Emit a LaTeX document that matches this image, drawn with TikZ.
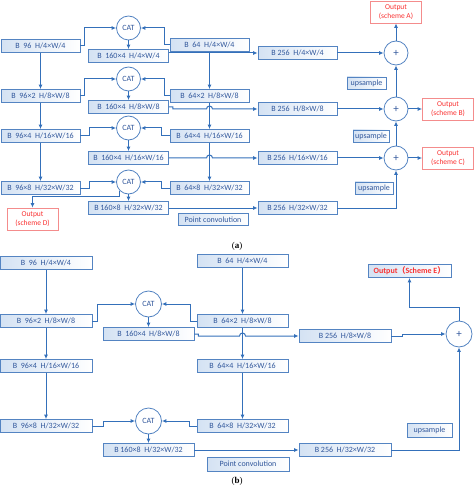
\documentclass[tikz,border=0pt]{standalone}
\usepackage{fontspec}
\setmainfont{Carlito}
\newfontfamily\cjk{Noto Sans CJK SC}
\newfontfamily\labfont{Liberation Serif}
\usetikzlibrary{arrows.meta}

\definecolor{lineBlue}{RGB}{52,112,186}
\definecolor{boxBlue}{RGB}{84,132,194}
\definecolor{fillBlue}{RGB}{212,226,243}
\definecolor{textBlue}{RGB}{50,88,156}
\definecolor{outRed}{RGB}{250,50,50}
\definecolor{outLine}{RGB}{244,140,140}

\tikzset{
    blk/.style={draw=boxBlue, line width=0.8pt, left color=fillBlue, right color=white, text=textBlue,
        inner sep=0pt, minimum height=13pt, font=\fontsize{8}{9}\selectfont},
    cat/.style={circle, draw=boxBlue, line width=0.8pt, fill=white, text=textBlue, minimum size=24pt,
        inner sep=0pt, font=\fontsize{8}{9}\selectfont},
    outbox/.style={draw=outLine, line width=0.8pt, fill=white, text=outRed, align=center, inner sep=0pt,
        minimum height=22pt, minimum width=51pt, font=\fontsize{7.5}{9}\selectfont},
    arr/.style={lineBlue, line width=1pt, -{Latex[length=4.5pt,width=4pt]}},
}

\begin{document}
\begin{tikzpicture}[x=1pt, y=-1pt]
            \useasboundingbox (0, 0) rectangle (474, 486);
            % (a)
            \node[blk, minimum width=79pt] (la1) at (40.5, 46) {B~~96~~H/4×W/4};
            \node[blk, minimum width=79pt] (la2) at (40.5, 96) {B~~96×2~~H/8×W/8};
            \node[blk, minimum width=79pt] (la3) at (40.5, 136) {B~~96×4~~H/16×W/16};
            \node[blk, minimum width=79pt] (la4) at (40.5, 188) {B~~96×8~~H/32×W/32};
            \node[cat] (ca1) at (128.5, 28) {CAT};
            \node[cat] (ca2) at (128.5, 79) {CAT};
            \node[cat] (ca3) at (128.5, 128) {CAT};
            \node[cat] (ca4) at (128.5, 182) {CAT};
            \node[blk, minimum width=80pt] (ma1) at (128.5, 56) {B~~160×4~~H/4×W/4};
            \node[blk, minimum width=80pt] (ma2) at (128.5, 107) {B~~160×4~~H/8×W/8};
            \node[blk, minimum width=80pt] (ma3) at (128.5, 158) {B~~160×4~~H/16×W/16};
            \node[blk, minimum width=80pt] (ma4) at (128.5, 208) {B~160×8~~H/32×W/32};
            \node[blk, minimum width=79pt] (ra1) at (209.5, 45) {B~~64~~H/4×W/4};
            \node[blk, minimum width=79pt] (ra2) at (209.5, 96) {B~~64×2~~H/8×W/8};
            \node[blk, minimum width=79pt] (ra3) at (209.5, 136) {B~~64×4~~H/16×W/16};
            \node[blk, minimum width=79pt] (ra4) at (209.5, 188) {B~~64×8~~H/32×W/32};
            \node[blk, minimum width=79pt] (ba1) at (297.5, 53) {B 256~~H/4×W/4};
            \node[blk, minimum width=79pt] (ba2) at (297.5, 109) {B 256~~H/8×W/8};
            \node[blk, minimum width=79pt] (ba3) at (297.5, 158) {B 256~~H/16×W/16};
            \node[blk, minimum width=79pt] (ba4) at (297.5, 208) {B 256~~H/32×W/32};
            \node[cat, font=\fontsize{11}{11}\selectfont] (pa1) at (396, 53) {+};
            \node[cat, font=\fontsize{11}{11}\selectfont] (pa2) at (396, 109) {+};
            \node[cat, font=\fontsize{11}{11}\selectfont] (pa3) at (396, 158) {+};
            \node[outbox] (oa) at (396, 12) {Output\\(scheme A)};
            \node[outbox] (ob) at (448, 109) {Output\\(scheme B)};
            \node[outbox] (oc) at (448, 158) {Output\\(scheme C)};
            \node[outbox] (od) at (32.5, 219) {Output\\(scheme D)};
            \node[blk, minimum width=39pt, minimum height=12pt] (ua1) at (366.5, 83) {upsample};
            \node[blk, minimum width=36pt, minimum height=12pt] (ua2) at (371, 136) {upsample};
            \node[blk, minimum width=38pt, minimum height=12pt] (ua3) at (374, 188) {upsample};
            \node[blk, minimum width=70pt, minimum height=12pt] (pca) at (213, 219.5) {Point convolution};
            \node[font=\labfont\fontsize{9}{10}\selectfont] (laba) at (237, 246) {(\textbf{a})};

            \foreach \cA/\cB in {la1/la2, la2/la3, la3/la4, ra1/ra2, ra2/ra3, ra3/ra4,
                ca1/ma1, ca2/ma2, ca3/ma3, ca4/ma4, ba1/pa1, ba2/pa2, ba3/pa3,
                pa3/pa2, pa2/pa1, pa1/oa, pa2/ob, pa3/oc}
                \draw[arr] (\cA) -- (\cB);
            \draw[arr] (la1.east) -- ++(4, 0) |- (ca1.west);
            \draw[arr] (la2.east) -- ++(4, 0) |- (ca2.west);
            \draw[arr] (la3.east) -- ++(9, 0) |- (ca3.west);
            \draw[arr] (la4.east) -- ++(9, 0) |- (ca4.west);
            \draw[arr] (ra1.west) -- ++(-5, 0) |- (ca1.east);
            \draw[arr] (ra2.west) -- ++(-5, 0) |- (ca2.east);
            \draw[arr] (ra3.west) -- ++(-8, 0) |- (ca3.east);
            \draw[arr] (ra4.west) -- ++(-8, 0) |- (ca4.east);
            \draw[arr] (ca4.south west) -- ++(0, 6) -| (od.north);
            \draw[arr] (ma1.east |- ba1.west) -- (ba1.west);
            \draw[arr] (ma2.east) -- ++(4, 0) |- (206.5, 109) arc[start angle=180, end angle=360, radius=3] -- (ba2.west);
            \draw[arr] (ma3.east) -- (206.5, 158) arc[start angle=180, end angle=360, radius=3] -- (ba3.west);
            \draw[arr] (ma4.east) -- (ba4.west);
            \draw[arr] (ba4.east) -| (pa3.south);

            % (b)
            \begin{scope}[every node/.append style={minimum height=15pt}]
                \node[blk, minimum width=92pt] (lb1) at (46, 263) {B~~96~~H/4×W/4};
                \node[blk, minimum width=92pt] (lb2) at (46, 321) {B~~96×2~~H/8×W/8};
                \node[blk, minimum width=92pt] (lb3) at (46, 366) {B~~96×4~~H/16×W/16};
                \node[blk, minimum width=92pt] (lb4) at (46, 426) {B~~96×8~~H/32×W/32};
                \node[cat, minimum size=26pt] (cb1) at (148.5, 304) {CAT};
                \node[cat, minimum size=26pt] (cb2) at (148.5, 421) {CAT};
                \node[blk, minimum width=91pt] (mb1) at (148.5, 334) {B~~160×4~~H/8×W/8};
                \node[blk, minimum width=91pt] (mb2) at (148.5, 450) {B~160×8~~H/32×W/32};
                \node[blk, minimum width=91pt] (rb1) at (242.5, 261) {B~~64~~H/4×W/4};
                \node[blk, minimum width=91pt] (rb2) at (242.5, 321) {B~~64×2~~H/8×W/8};
                \node[blk, minimum width=91pt] (rb3) at (242.5, 366) {B~~64×4~~H/16×W/16};
                \node[blk, minimum width=91pt] (rb4) at (242.5, 426) {B~~64×8~~H/32×W/32};
                \node[blk, minimum width=92pt] (bb1) at (345, 336) {B 256~~H/8×W/8};
                \node[blk, minimum width=92pt] (bb2) at (345, 450) {B 256~~H/32×W/32};
                \node[cat, minimum size=26pt, font=\fontsize{11}{11}\selectfont] (pb) at (459, 334) {+};
                \node[blk, minimum width=83pt, text=outRed, font=\bfseries\fontsize{8}{9}\selectfont] (oe) at (409.5, 271) {Output{\cjk （}Scheme E{\cjk ）}};
                \node[blk, minimum width=45pt, minimum height=14pt] (ub) at (429.5, 430) {upsample};
                \node[blk, minimum width=82pt, minimum height=14pt] (pcb) at (248, 464) {Point convolution};
            \end{scope}
            \node[font=\labfont\fontsize{9}{10}\selectfont] (labb) at (237, 481) {(\textbf{b})};

            \foreach \cA/\cB in {lb1/lb2, lb2/lb3, lb3/lb4, rb1/rb2, rb2/rb3, rb3/rb4, cb1/mb1, cb2/mb2}
                \draw[arr] (\cA) -- (\cB);
            \draw[arr] (lb2.east) -- ++(5, 0) |- (cb1.west);
            \draw[arr] (rb2.west) -- ++(-6, 0) |- (cb1.east);
            \draw[arr] (lb4.east) -- ++(11, 0) |- (cb2.west);
            \draw[arr] (rb4.west) -- ++(-7, 0) |- (cb2.east);
            \draw[arr] (mb1.east) -- ++(4, 0) |- (239.5, 336) arc[start angle=180, end angle=360, radius=3] -- (bb1.west);
            \draw[arr] (bb1.east) -- ++(11, 0) |- (pb.west);
            \draw[arr] (mb2.east) -- (bb2.west);
            \draw[arr] (bb2.east) -| (pb.south);
            \draw[arr] (pb.north) -- ++(0, -13) -| (oe.south);
        \end{tikzpicture}
\end{document}
